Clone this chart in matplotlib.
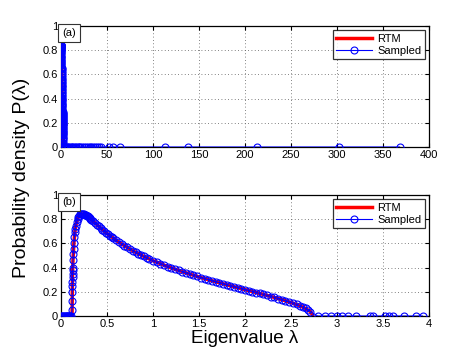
import numpy as np
import matplotlib
matplotlib.use('Agg')
import matplotlib.pyplot as plt
from matplotlib.ticker import FormatStrFormatter

plt.rcParams['font.family'] = ['Liberation Sans', 'DejaVu Sans']

# RTM (theoretical) density
rtm_x = [0.12, 0.125, 0.13, 0.14, 0.15, 0.16, 0.18, 0.20, 0.22, 0.25, 0.30, 0.35,
         0.40, 0.45, 0.50, 0.60, 0.70, 0.80, 0.90, 1.00, 1.10, 1.20, 1.30, 1.40,
         1.50, 1.60, 1.70, 1.80, 1.90, 2.00, 2.10, 2.20, 2.30, 2.40, 2.50, 2.60,
         2.65, 2.70, 2.72, 2.736]
rtm_y = [0.0, 0.338, 0.460, 0.602, 0.687, 0.743, 0.805, 0.833, 0.844, 0.842, 0.817, 0.783,
         0.748, 0.714, 0.682, 0.625, 0.575, 0.531, 0.492, 0.457, 0.426, 0.397, 0.371, 0.346,
         0.322, 0.300, 0.279, 0.258, 0.238, 0.218, 0.198, 0.178, 0.157, 0.135, 0.111, 0.083,
         0.065, 0.042, 0.028, 0.0]

# sampled histogram: empty bins below the bulk
zero_lo_x = [0.0, 0.01, 0.02, 0.03, 0.04, 0.05, 0.06, 0.07, 0.08, 0.09, 0.10, 0.11]

# sampled histogram: bulk of the spectrum
bulk_x = [0.12, 0.121, 0.122, 0.123, 0.124, 0.125, 0.126, 0.127, 0.128, 0.13, 0.133, 0.136,
          0.14, 0.145, 0.15, 0.155, 0.16, 0.17, 0.18, 0.19, 0.20, 0.21, 0.22, 0.23,
          0.24, 0.25, 0.26, 0.27, 0.28, 0.29, 0.30, 0.31, 0.32, 0.33, 0.35, 0.37,
          0.39, 0.41, 0.43, 0.45, 0.47, 0.49, 0.51, 0.53, 0.55, 0.57, 0.60, 0.63,
          0.66, 0.69, 0.72, 0.75, 0.78, 0.81, 0.84, 0.87, 0.90, 0.93, 0.96, 1.00,
          1.04, 1.08, 1.12, 1.16, 1.20, 1.24, 1.28, 1.32, 1.36, 1.40, 1.44, 1.48,
          1.52, 1.56, 1.60, 1.64, 1.68, 1.72, 1.76, 1.80, 1.84, 1.88, 1.92, 1.96,
          2.00, 2.04, 2.08, 2.12, 2.16, 2.20, 2.24, 2.28, 2.32, 2.36, 2.40, 2.44,
          2.48, 2.52, 2.56, 2.60, 2.63, 2.66, 2.69, 2.71]
bulk_y = [0.05, 0.12, 0.20, 0.25, 0.28, 0.32, 0.35, 0.38, 0.40, 0.46, 0.51, 0.55,
          0.60, 0.65, 0.69, 0.72, 0.74, 0.78, 0.80, 0.82, 0.83, 0.84, 0.845, 0.846,
          0.845, 0.842, 0.838, 0.834, 0.829, 0.823, 0.817, 0.811, 0.804, 0.797, 0.783, 0.769,
          0.755, 0.741, 0.727, 0.714, 0.700, 0.688, 0.676, 0.664, 0.652, 0.641, 0.625, 0.610,
          0.595, 0.580, 0.566, 0.553, 0.540, 0.527, 0.515, 0.503, 0.492, 0.481, 0.470, 0.457,
          0.444, 0.432, 0.420, 0.408, 0.397, 0.387, 0.376, 0.366, 0.356, 0.346, 0.336, 0.327,
          0.318, 0.309, 0.300, 0.292, 0.283, 0.275, 0.266, 0.258, 0.250, 0.242, 0.234, 0.226,
          0.218, 0.210, 0.202, 0.194, 0.186, 0.178, 0.170, 0.161, 0.153, 0.144, 0.135, 0.126,
          0.116, 0.106, 0.095, 0.083, 0.073, 0.062, 0.048, 0.036]

# empty bins above the bulk, panel (b)
zero_hi_x = [2.79, 2.87, 2.94, 3.00, 3.05, 3.12, 3.21, 3.36, 3.39, 3.52, 3.57, 3.61,
             3.73, 3.86, 3.93]

# outlier bins only seen in panel (a)
outlier_x = [4.5, 6, 7.5, 9, 10.5, 12, 13.5, 15, 16.5, 18, 19.5, 21, 23, 25, 27, 29,
             31, 33, 35, 37, 39, 41, 43, 52, 56, 64, 113, 138, 213, 302, 368]

samp_b_x = zero_lo_x + bulk_x + zero_hi_x
samp_b_y = [0.0] * len(zero_lo_x) + bulk_y + [0.0] * len(zero_hi_x)
samp_a_x = samp_b_x + outlier_x
samp_a_y = samp_b_y + [0.0] * len(outlier_x)

fig = plt.figure(figsize=(4.74, 3.56), dpi=100)
ax_a = fig.add_axes([0.1287, 0.5871, 0.7764, 0.3399])
ax_b = fig.add_axes([0.1287, 0.1124, 0.7764, 0.3399])

panels = [(ax_a, samp_a_x, samp_a_y, (0, 400), np.arange(0, 401, 50), '(a)'),
          (ax_b, samp_b_x, samp_b_y, (0, 4), np.arange(0, 4.01, 0.5), '(b)')]

for ax, sx, sy, xlim, xt, tag in panels:
    ax.plot(rtm_x, rtm_y, color='red', lw=2.5, label='RTM', zorder=2)
    ax.plot(sx, sy, color='blue', lw=0.8, marker='o', ms=5, mfc='none',
            mec='blue', mew=0.8, label='Sampled', zorder=3)
    ax.set_xlim(*xlim)
    ax.set_ylim(0, 1)
    ax.set_xticks(xt)
    ax.set_yticks(np.arange(0, 1.01, 0.2))
    ax.xaxis.set_major_formatter(FormatStrFormatter('%g'))
    ax.yaxis.set_major_formatter(FormatStrFormatter('%g'))
    ax.grid(True, linestyle=(0, (1, 3)), color='0.35', lw=0.6)
    ax.tick_params(direction='in', top=True, right=True, labelsize=8, length=3, pad=2)
    for s in ax.spines.values():
        s.set_linewidth(0.9)
    ax.text(0.003, 0.985, tag, transform=ax.transAxes, fontsize=8, va='top', ha='left',
            bbox=dict(boxstyle='square,pad=0.35', fc='white', ec='0.2', lw=0.8), zorder=5)
    leg = ax.legend(loc='upper right', fontsize=8, frameon=True, fancybox=False,
                    edgecolor='black', handlelength=3.2, borderpad=0.3,
                    labelspacing=0.2, borderaxespad=0.4, handletextpad=0.5)
    leg.get_frame().set_linewidth(0.9)

fig.text(0.045, 0.50, 'Probability density P(\u03bb)', rotation=90,
         fontsize=14, ha='center', va='center')
ax_b.set_xlabel('Eigenvalue \u03bb', fontsize=13.5, labelpad=1)

plt.savefig('out.png', dpi=100)
plt.close()
